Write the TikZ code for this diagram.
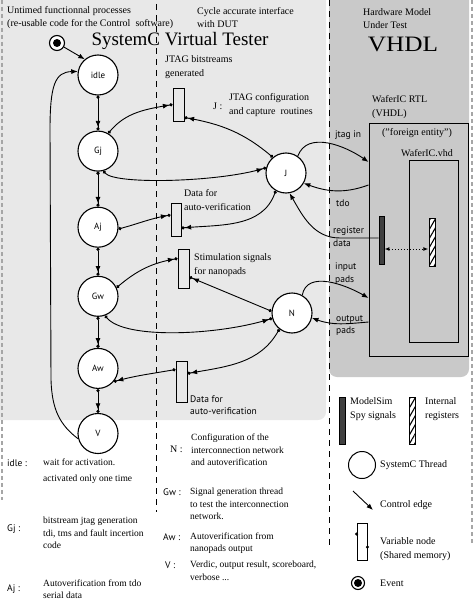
\documentclass[tikz,border=0pt]{standalone}
\usepackage{fontspec}
\setmainfont{Liberation Serif}
\setsansfont{PT Sans}
\usetikzlibrary{arrows.meta, positioning, patterns.meta}

\definecolor{panelA}{gray}{0.91}
\definecolor{panelB}{gray}{0.79}
\definecolor{rim}{gray}{0.65}
\definecolor{spy}{gray}{0.25}

\begin{document}
\begin{tikzpicture}[x=1pt, y=-1pt, node distance=35pt,
    thread/.style={circle, draw, line width=1.1pt, fill=white, minimum size=40pt, inner sep=0pt, font=\sffamily\fontsize{9}{10}\selectfont},
    varnode/.style={draw, line width=0.9pt, minimum width=11pt, inner sep=0pt},
    ctrl/.style={line width=0.9pt, -{Latex[length=6.5pt,width=5pt]}},
    flow/.style={line width=0.9pt, {Circle[length=3.2pt]}-{Latex[length=6.5pt,width=5pt] Circle[length=3.2pt]}},
    txt/.style={inner sep=0pt, anchor=west, align=left, font=\fontsize{10}{13.5}\selectfont},
    sftxt/.style={inner sep=0pt, anchor=west, align=left, font=\sffamily\fontsize{9.5}{12.5}\selectfont},
    lgd/.style={inner sep=0pt, anchor=west, align=left, font=\fontsize{9.5}{12.5}\selectfont},
    spybar/.style={draw, fill=spy, line width=0.6pt, minimum width=5pt, minimum height=48pt, inner sep=0pt},
    regbar/.style={draw, line width=0.8pt, preaction={fill=white}, pattern={Lines[angle=60, distance=4.5pt, line width=1.1pt]}, minimum width=6pt, minimum height=48pt, inner sep=0pt},
    event/.style={circle, draw, line width=1.1pt, fill=white, minimum size=15pt, inner sep=0pt,
        path picture={\fill[black] (path picture bounding box.center) circle (4pt);}}
]
\useasboundingbox (0,0) rectangle (474,604);

% panels and separators
\fill[panelA, rounded corners=8pt] (-10,-10) rectangle (326,420);
\fill[panelB, rounded corners=8pt] (329,-10) rectangle (469,377);
\draw[rim, line width=1.5pt, dash pattern=on 4pt off 3pt] (2,0) -- (2,500);
\draw[rim, line width=1.5pt, dash pattern=on 4pt off 3pt] (472,0) -- (472,545);
\draw[line width=0.9pt, dash pattern=on 6pt off 5pt] (156,4) -- (156,512);
\draw[line width=0.9pt, dash pattern=on 6pt off 5pt] (329,0) -- (329,545);

\node[txt] (untimed) at (7,17.5) {Untimed functionnal processes\\(re-usable code for the Control\ \ software)};
\node[txt] (cycle) at (197,17.5) {Cycle accurate interface\\with DUT};
\node[txt] (hwm) at (363,18.5) {Hardware Model\\Under Test};
\node[font=\fontsize{19}{19}\selectfont, inner sep=0pt] (title) at (180,41) {SystemC Virtual Tester};
\node[font=\fontsize{22}{22}\selectfont, inner sep=0pt] (vhdl) at (403,44) {\scalebox{1.15}[1]{VHDL}};

% threads
\node[event] (ev) at (57,43) {};
\node[thread] (idle) at (98,75) {idle};
\node[thread, below=35pt of idle] (Gj) {Gj};
\node[thread, below=35pt of Gj] (Aj) {Aj};
\node[thread, below=28pt of Aj] (Gw) {Gw};
\node[thread, below=31pt of Gw] (Aw) {Aw};
\node[thread, below=24pt of Aw] (V) {V};
\node[thread] (J) at (286,173) {J};
\node[thread] (N) at (292,313) {N};

% shared variables
\node[varnode, minimum height=33pt] (vJ) at (178.5,104.5) {};
\node[varnode, minimum height=33pt, minimum width=10pt] (vA) at (176,219.5) {};
\node[varnode, minimum height=39pt] (vS) at (183.5,268.5) {};
\node[varnode, minimum height=41pt] (vW) at (181.5,381.5) {};

\node[txt] (jtagbits) at (165,67) {JTAG bitstreams\\generated};
\node[txt] (Jkey) at (213,106) {J :};
\node[txt] (Jdesc) at (229,105) {JTAG configuration\\and capture\ \ routines};
\node[txt] (dataA) at (184,200) {Data for\\auto-verification};
\node[txt] (stim) at (194,265) {Stimulation signals\\for nanopads};
\node[sftxt] (dataW) at (190,405) {Data for\\auto-verification};

% hardware model
\node[txt] (rtl) at (372,107) {WaferIC RTL\\(VHDL)};
\node[draw, line width=1pt, minimum width=99pt, minimum height=232pt, inner sep=0pt] (wafer) at (418.5,240) {};
\node[draw, line width=0.8pt, minimum width=49pt, minimum height=182pt, inner sep=0pt] (vhd) at (433.5,251) {};
\node[txt, anchor=center] (foreign) at (417,133) {("foreign entity")};
\node[txt] (vhdname) at (401,153) {WaferIC.vhd};
\node[spybar] (spy) at (381.5,240) {};
\node[regbar] (reg) at (432,242) {};

\node[sftxt] (jtagin) at (335,135) {jtag in};
\node[sftxt] (tdo) at (336,203) {tdo};
\node[sftxt] (regdata) at (333,236.5) {register\\data};
\node[sftxt] (inpads) at (335,273.5) {input\\pads};
\node[sftxt] (outpads) at (336,325.5) {output\\pads};

% control edges
\draw[ctrl] (ev) -- (idle.130);
\draw[flow] (idle) -- (Gj);
\draw[flow] (Gj) -- (Aj);
\draw[flow] (Aj) -- (Gw);
\draw[flow] (Gw) -- (Aw);
\draw[flow] (Aw) -- (V);
\draw[ctrl] (V.195) .. controls (60,425) and (52,410) .. (51,380) -- (50,130) .. controls (50,85) and (55,72) .. (idle.170);

% data edges
\draw[flow] (Gj.60) to[out=50, in=190] (vJ.west);
\draw[flow] (J.130) to[out=140, in=-10] ([yshift=-13pt]vJ.east);
\draw[flow] (Gj.-75) .. controls (115,185) and (220,182) .. (J.165);
\draw[flow] (Aj.-5) to[out=15, in=190] ([yshift=4.5pt]vA.west);
\draw[flow] (J.-120) to[out=-110, in=5] ([yshift=-8.5pt]vA.east);
\draw[flow] (Gw.25) to[out=40, in=190] ([yshift=10pt]vS.west);
\draw[flow] (N.175) -- ([yshift=-8.5pt]vS.east);
\draw[flow] (Gw.-70) .. controls (125,340) and (220,335) .. (N.195);
\draw[flow] (N.-128) to[out=-120, in=10] ([yshift=8pt]vW.east);
\draw[flow] ([yshift=12pt]vW.west) to[out=190, in=15] (Aw.-40);

% wires to the DUT
\draw[ctrl] (J.55) to[out=70, in=145] ([yshift=78pt]wafer.west);
\draw[ctrl] ([yshift=55pt]wafer.west) to[out=200, in=-20] (J.-30);
\draw[ctrl] ([yshift=2pt]spy.west) -- (340,238) to[out=180, in=-60] (J.-80);
\draw[ctrl] (N.60) to[out=80, in=150] ([yshift=-58pt]wafer.west);
\draw[ctrl] ([yshift=-82pt]wafer.west) to[out=185, in=-20] (N.-14);
\draw[line width=1pt, dotted, {Latex[length=5pt]}-{Latex[length=5pt]}] ([yshift=-9pt]spy.east) -- ([yshift=-7pt]reg.west);

% legend
\node[sftxt] (kidle) at (7,463) {idle :};
\node[lgd] (didle) at (43,471) {wait for activation.\\[3.5pt]activated only one time};
\node[sftxt] (kGj) at (7,529) {Gj :};
\node[lgd] (dGj) at (43,533) {bitstream jtag generation\\tdi, tms and fault incertion\\code};
\node[sftxt] (kAj) at (7,589) {Aj :};
\node[lgd] (dAj) at (43,589) {Autoverification from tdo\\serial data};
\node[txt] (kN) at (170,449) {N :};
\node[lgd] (dN) at (191,450) {Configuration of the\\interconnection network\\and autoverification};
\node[sftxt] (kGw) at (163,492) {Gw :};
\node[lgd] (dGw) at (190,504) {Signal generation thread\\to test the interconnection\\network.};
\node[sftxt] (kAw) at (163,537) {Aw :};
\node[lgd] (dAw) at (190,543) {Autoverification from\\nanopads output};
\node[sftxt] (kV) at (165,565) {V :};
\node[lgd] (dV) at (190,571) {Verdic, output result, scoreboard,\\verbose ...};

\node[spybar, minimum width=6pt, minimum height=47pt] (lspy) at (342,420.5) {};
\node[txt] (lspyt) at (350,409) {ModelSim\\Spy signals};
\node[regbar, minimum height=47pt] (lreg) at (412,420.5) {};
\node[txt] (lregt) at (425,409) {Internal\\registers};
\node[circle, draw, line width=1pt, minimum size=27pt, inner sep=0pt] (lthr) at (362,465) {};
\node[txt] (lthrt) at (380,465) {SystemC Thread};
\coordinate (lc1) at (353,491);
\coordinate (lc2) at (373,510);
\draw[ctrl] (lc1) -- (lc2);
\node[txt] (lctrl) at (380,505) {Control edge};
\node[varnode, minimum width=10pt, minimum height=37pt] (lvar) at (362,541.5) {};
\fill ([yshift=7.5pt]lvar.west) circle (1.7pt);
\fill ([yshift=-5.5pt]lvar.east) circle (1.7pt);
\node[txt] (lvart) at (380,549) {Variable node\\(Shared memory)};
\node[event, minimum size=13pt] (lev) at (358,583) {};
\node[txt] (levt) at (380,583) {Event};
\end{tikzpicture}
\end{document}
